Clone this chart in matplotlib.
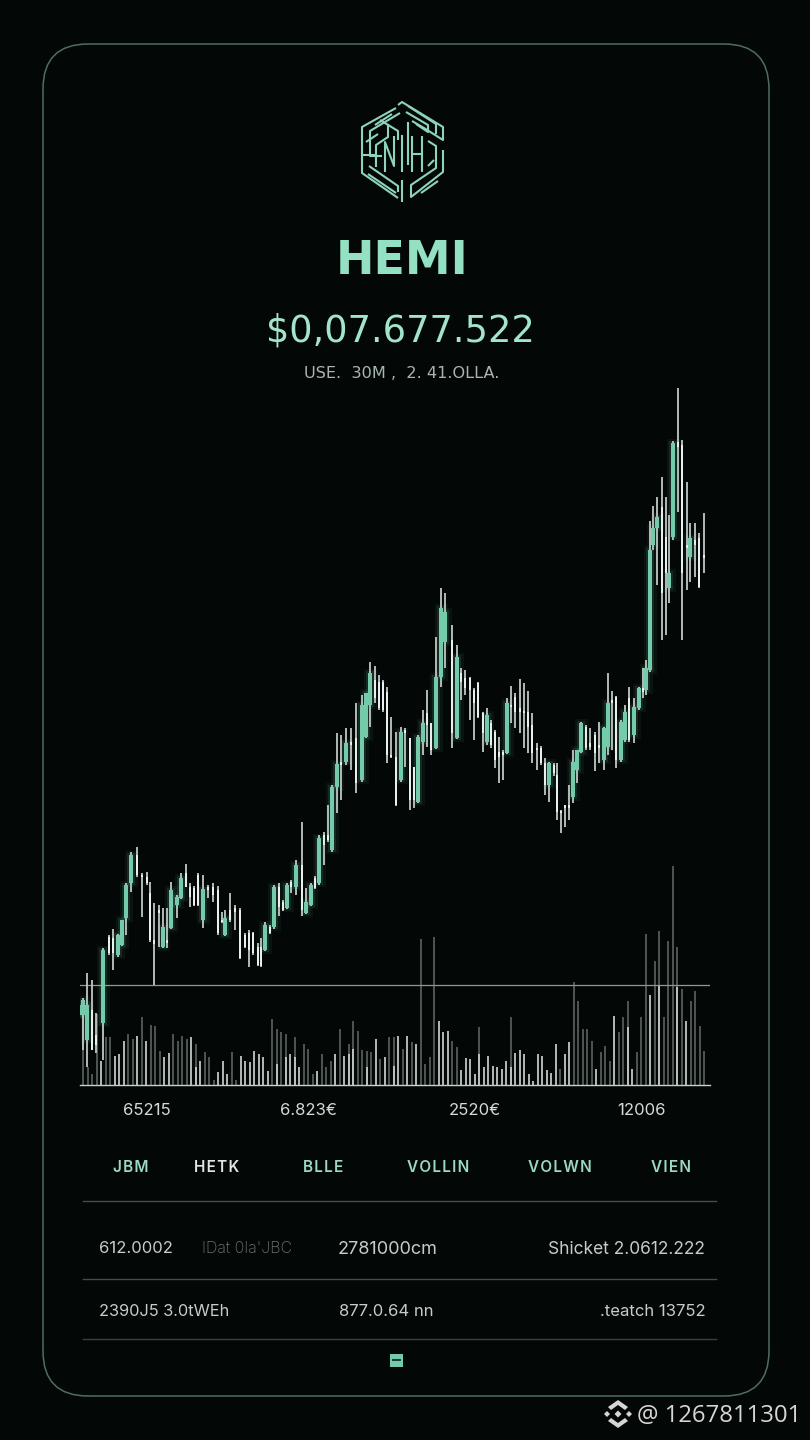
import matplotlib
matplotlib.use("Agg")
import matplotlib.pyplot as plt
import numpy as np
from matplotlib.patches import FancyBboxPatch, Polygon, Rectangle

# candle time axis, open / close / high / low
times = [-1, 3, 7, 12, 16, 23, 29, 33, 38, 42, 46, 51, 57, 62, 67, 70, 74, 79, 83, 87,
         91, 97, 101, 106, 110, 114, 118, 123, 128, 133, 138, 142, 145, 150, 155, 160, 165, 169, 173, 178,
         181, 185, 190, 194, 199, 203, 207, 211, 216, 222, 226, 231, 235, 239, 244, 248, 252, 257, 261, 266,
         271, 276, 282, 286, 290, 295, 299, 303, 307, 311, 316, 321, 325, 330, 334, 338, 343, 347, 351, 356,
         361, 365, 372, 377, 381, 385, 390, 394, 398, 403, 407, 411, 415, 419, 423, 427, 431, 435, 440, 444,
         448, 452, 457, 461, 465, 469, 474, 477, 481, 485, 489, 493, 497, 501, 506, 510, 515, 519, 524, 528,
         532, 536, 541, 545, 549, 554, 559, 563, 566, 570, 573, 577, 582, 586, 589, 593, 598, 602, 607, 610,
         615, 619, 624]
opens = [70, 70, 45, 75, 50, 62, 148, 147, 130, 140, 167, 202, 230, 210, 208, 192, 145, 175, 138, 145,
         157, 180, 187, 212, 198, 197, 210, 165, 198, 198, 195, 165, 150, 175, 177, 175, 150, 152, 152, 138,
         138, 135, 158, 158, 198, 183, 177, 203, 198, 220, 172, 180, 207, 202, 250, 250, 235, 298, 323, 323,
         343, 347, 305, 348, 380, 405, 403, 403, 393, 330, 328, 305, 355, 347, 318, 283, 343, 372, 362, 337,
         408, 443, 445, 347, 412, 407, 407, 395, 402, 372, 343, 362, 353, 333, 333, 332, 380, 388, 377, 374,
         373, 360, 337, 337, 322, 300, 320, 310, 274, 280, 280, 288, 315, 333, 358, 342, 350, 340, 325, 338,
         385, 388, 325, 345, 387, 350, 377, 397, 395, 415, 540, 557, 578, 548, 497, 548, 643, 640, 540, 528,
         545, 547, 530]
closes = [80, 85, 80, 35, 40, 135, 132, 132, 150, 165, 200, 230, 210, 208, 202, 145, 141, 172, 158, 142,
          195, 188, 207, 198, 188, 180, 180, 196, 195, 190, 152, 163, 167, 165, 173, 127, 138, 135, 132, 120,
          119, 160, 152, 198, 178, 175, 200, 198, 220, 175, 183, 200, 197, 247, 240, 245, 298, 321, 320, 342,
          340, 302, 380, 392, 412, 387, 377, 375, 330, 328, 280, 353, 352, 285, 285, 348, 362, 360, 335, 408,
          477, 473, 352, 428, 403, 397, 395, 382, 368, 352, 370, 340, 325, 328, 330, 382, 378, 373, 373, 372,
          358, 332, 335, 322, 300, 322, 312, 273, 272, 277, 277, 323, 335, 362, 337, 338, 332, 337, 357, 382,
          382, 325, 363, 373, 345, 378, 397, 393, 417, 535, 557, 568, 492, 512, 512, 642, 638, 512, 537, 547,
          540, 498, 527]
highs = [85, 87, 112, 105, 72, 137, 150, 156, 151, 165, 202, 233, 238, 212, 213, 203, 182, 180, 177, 177,
         203, 190, 212, 221, 202, 199, 212, 210, 200, 202, 199, 173, 175, 192, 180, 177, 152, 155, 153, 142,
         147, 163, 160, 200, 202, 185, 202, 205, 225, 263, 197, 202, 209, 250, 253, 280, 300, 352, 350, 357,
         357, 382, 390, 392, 423, 419, 410, 405, 398, 368, 353, 358, 357, 347, 318, 350, 375, 395, 362, 448,
         497, 492, 460, 440, 417, 415, 408, 397, 403, 373, 377, 365, 355, 348, 335, 387, 399, 392, 406, 402,
         394, 372, 342, 339, 327, 323, 322, 322, 275, 280, 300, 335, 335, 363, 360, 357, 353, 363, 358, 412,
         394, 389, 365, 380, 398, 387, 398, 417, 425, 564, 579, 588, 608, 588, 570, 644, 697, 645, 603, 562,
         562, 552, 572]
lows = [68, 35, 18, 35, 32, 25, 130, 115, 128, 139, 150, 193, 208, 168, 200, 143, 100, 138, 137, 137,
        156, 167, 186, 198, 178, 179, 179, 157, 187, 183, 150, 162, 149, 163, 155, 126, 137, 118, 130, 119,
        118, 134, 151, 156, 169, 174, 176, 192, 190, 169, 171, 179, 196, 200, 220, 243, 233, 272, 285, 320,
        315, 292, 303, 347, 358, 382, 375, 373, 322, 327, 279, 303, 318, 275, 277, 282, 330, 338, 330, 336,
        398, 417, 337, 346, 385, 390, 365, 345, 367, 333, 340, 337, 317, 302, 305, 331, 362, 357, 352, 337,
        332, 322, 315, 320, 290, 283, 309, 265, 252, 258, 265, 282, 302, 332, 335, 335, 314, 322, 315, 330,
        335, 317, 323, 343, 343, 342, 375, 387, 390, 413, 535, 500, 445, 450, 482, 545, 573, 445, 495, 503,
        508, 497, 512]

# volume, faint tall layer and bright short layer
vol_faint = [74, 18, 11, 71, 0, 48, 48, 0, 0, 0, 51, 46, 0, 68, 0, 60, 59, 34, 0, 0,
             51, 44, 49, 46, 0, 41, 0, 33, 28, 5, 0, 0, 0, 33, 5, 0, 0, 0, 0, 0,
             0, 0, 66, 56, 53, 51, 0, 48, 0, 41, 36, 11, 0, 31, 18, 24, 0, 56, 0, 41,
             64, 54, 35, 34, 33, 0, 26, 0, 48, 48, 0, 36, 0, 43, 0, 146, 21, 28, 148, 0,
             0, 0, 44, 38, 0, 0, 0, 0, 58, 0, 0, 0, 0, 0, 0, 68, 0, 0, 0, 0,
             0, 0, 0, 0, 0, 0, 16, 0, 0, 103, 84, 56, 56, 44, 0, 33, 39, 24, 0, 53,
             68, 84, 0, 33, 68, 151, 0, 124, 154, 68, 144, 219, 138, 96, 0, 84, 94, 59, 34]
vol_bright = [0, 0, 0, 0, 24, 0, 0, 29, 31, 44, 0, 0, 49, 0, 44, 0, 0, 0, 28, 32,
              0, 0, 0, 0, 48, 18, 24, 0, 0, 0, 13, 24, 11, 0, 0, 29, 24, 23, 34, 31,
              28, 14, 0, 21, 0, 28, 31, 28, 18, 0, 0, 0, 14, 0, 0, 0, 31, 0, 29, 31,
              36, 0, 0, 18, 0, 46, 0, 28, 0, 19, 49, 0, 49, 0, 41, 0, 0, 0, 0, 64,
              53, 54, 0, 0, 15, 27, 26, 11, 31, 18, 29, 19, 18, 16, 24, 18, 32, 35, 31, 11,
              4, 31, 29, 15, 12, 41, 0, 31, 43, 0, 0, 0, 0, 0, 16, 0, 0, 0, 69, 0,
              0, 58, 16, 0, 0, 0, 90, 0, 99, 0, 0, 0, 98, 0, 64, 0, 0, 0, 0]

tick_pos = [67, 228, 395, 562]
tick_labels = ["65215", "6.823€", "2520€", "12006"]
level = 100

head_names = ["JBM", "HETK", "BLLE", "VOLLIN", "VOLWN", "VIEN"]
row1 = ["612.0002", "IDat 0Ia'JBC", "2781000cm", "Shicket 2.0612.222"]
row2 = ["2390J5 3.0tWEh", "877.0.64 nn", ".teatch 13752"]

BG = "#030807"
GREEN = "#74cbaa"
MINT = "#93e0c2"
WHITE = "#e9efec"
UI = ["Inter", "DejaVu Sans"]

fig = plt.figure(figsize=(8.1, 14.4), dpi=100, facecolor=BG)

# full page layer in pixels, for card, logo and labels
page = fig.add_axes([0, 0, 1, 1])
page.set_xlim(0, 810)
page.set_ylim(1440, 0)
page.axis("off")
page.add_patch(FancyBboxPatch((88, 89), 636, 1262, boxstyle="round,pad=45,rounding_size=45",
                              fc="none", ec="#4f6c62", lw=1.1))

# logo
logo = [
    [(398, 105), (402, 102), (443, 127), (443, 140), (424, 128), (412, 121)],
    [(396, 108), (362, 127), (362, 173), (398, 198)],
    [(408, 106), (436, 124), (436, 134)],
    [(400, 113), (370, 131), (370, 156), (382, 156)],
    [(362, 155), (377, 155)],
    [(376, 167), (376, 145), (388, 137), (388, 124)],
    [(369, 166), (398, 186), (398, 192)],
    [(368, 174), (396, 193)],
    [(402, 180), (402, 202)],
    [(443, 150), (443, 172), (411, 197), (411, 185), (436, 168), (436, 146), (428, 141)],
    [(421, 193), (438, 181)],
    [(406, 112), (428, 125), (428, 132), (416, 124)],
    [(385, 172), (385, 142), (394, 166), (394, 136)],
    [(402, 135), (402, 172)],
    [(412, 172), (412, 136)],
    [(422, 172), (422, 136)],
    [(412, 154), (422, 154)],
    [(428, 166), (434, 160)],
    [(380, 120), (398, 131), (398, 140)],
    [(375, 125), (392, 114)],
    [(408, 122), (408, 165)],
    [(366, 142), (378, 134)],
]
for stroke in logo:
    xs, ys = zip(*stroke)
    page.plot(xs, ys, color="#8ed3ba", lw=1.5, solid_capstyle="butt")

page.text(402, 256, "HEMI", color=MINT, family="DejaVu Sans", fontsize=33, fontweight="bold", ha="center", va="center_baseline")
page.text(400, 327, "$0,07.677.522", color="#a2e5cb", family="DejaVu Sans", fontsize=26.5, ha="center", va="center_baseline")
page.text(402, 372, "USE.  30M ,  2. 41.OLLA.", color="#a8b5b1", family="DejaVu Sans", fontsize=11.6, ha="center", va="center_baseline")

for name, cx in zip(head_names, [131, 217, 323, 438, 560, 671]):
    col = "#dfe8e4" if name == "HETK" else "#9cd9c0"
    page.text(cx, 1166, "\u200a".join(name), color=col, family=UI, fontsize=11, fontweight="semibold", ha="center", va="center_baseline")

for y, col in [(1201, "#414e4a"), (1279, "#414e4a"), (1339, "#36433f")]:
    page.plot([83, 716], [y, y], color=col, lw=1)

TXT = "#c5ccc9"
page.text(99, 1247, row1[0], color=TXT, family=UI, fontsize=12, va="center_baseline")
page.text(202, 1247, row1[1], color="#6a7370", family=UI, fontsize=11.5, fontweight="light", va="center_baseline")
page.text(338, 1247, row1[2], color=TXT, family=UI, fontsize=13, va="center_baseline")
page.text(705, 1247, row1[3], color=TXT, family=UI, fontsize=12.5, ha="right", va="center_baseline")
page.text(99, 1310, row2[0], color=TXT, family=UI, fontsize=11.8, va="center_baseline")
page.text(339, 1310, row2[1], color=TXT, family=UI, fontsize=12, va="center_baseline")
page.text(706, 1310, row2[2], color=TXT, family=UI, fontsize=12, ha="right", va="center_baseline")

# small square under the table
page.add_patch(Rectangle((390, 1354), 13, 13, fc=GREEN, ec="none"))
page.plot([393, 400], [1360, 1360], color="#10302a", lw=1.3)

# watermark, the five part mark
MARK = "#d6d6d6"
for cx, cy, r in [(607, 1414, 3), (629, 1414, 3), (618, 1414, 3.5)]:
    page.add_patch(Polygon([(cx, cy - r), (cx + r, cy), (cx, cy + r), (cx - r, cy)], fc=MARK, ec="none"))
page.add_patch(Polygon([(618, 1400), (628, 1407), (625, 1410), (618, 1405), (611, 1410), (608, 1407)], fc=MARK, ec="none"))
page.add_patch(Polygon([(618, 1428), (628, 1421), (625, 1418), (618, 1423), (611, 1418), (608, 1421)], fc=MARK, ec="none"))
page.text(637, 1413, "@ 1267811301", color=MARK, family=["Open Sans", "DejaVu Sans"], fontsize=17.2, va="center_baseline")

# chart, 1 price unit = 1 px
ax = fig.add_axes([80 / 810, (1440 - 1085) / 1440, 630 / 810, 700 / 1440])
ax.patch.set_alpha(0)
ax.set_xlim(0, 630)
ax.set_ylim(0, 700)

t = np.array(times)
o = np.array(opens)
c = np.array(closes)
up = c >= o
bottom = np.minimum(o, c)
height = np.abs(c - o)

vol_x = np.linspace(3, 624, len(vol_faint))
ax.bar(vol_x, vol_faint, width=2, color="#7d8785", alpha=0.6, lw=0, zorder=1)
ax.bar(vol_x, vol_bright, width=2, color="#ccd3d0", alpha=0.85, lw=0, zorder=2)
ax.axhline(level, color="#8d9a96", lw=0.9, zorder=2)

# glow behind the green candles
ax.bar(t[up], height[up] + 8, bottom=bottom[up] - 4, width=13, color=GREEN, alpha=0.06, lw=0, zorder=3)
ax.bar(t[up], height[up] + 4, bottom=bottom[up] - 2, width=8, color=GREEN, alpha=0.12, lw=0, zorder=3)

ax.vlines(t, lows, highs, color="#c0c8c5", lw=1.3, zorder=4)
ax.bar(t[up], height[up], bottom=bottom[up], width=4.4, color=GREEN, lw=0, zorder=5)
ax.bar(t[~up], height[~up], bottom=bottom[~up], width=2.8, color=WHITE, lw=0, zorder=5)

for side in ["top", "left", "right"]:
    ax.spines[side].set_visible(False)
ax.spines["bottom"].set_color("#c8d0cc")
ax.spines["bottom"].set_linewidth(1)
ax.set_yticks([])
ax.set_xticks(tick_pos)
ax.set_xticklabels(tick_labels, family=UI, fontsize=12, color="#d4dad7")
ax.tick_params(axis="x", length=0, pad=13)

fig.savefig("out.png", dpi=100, facecolor=BG)
